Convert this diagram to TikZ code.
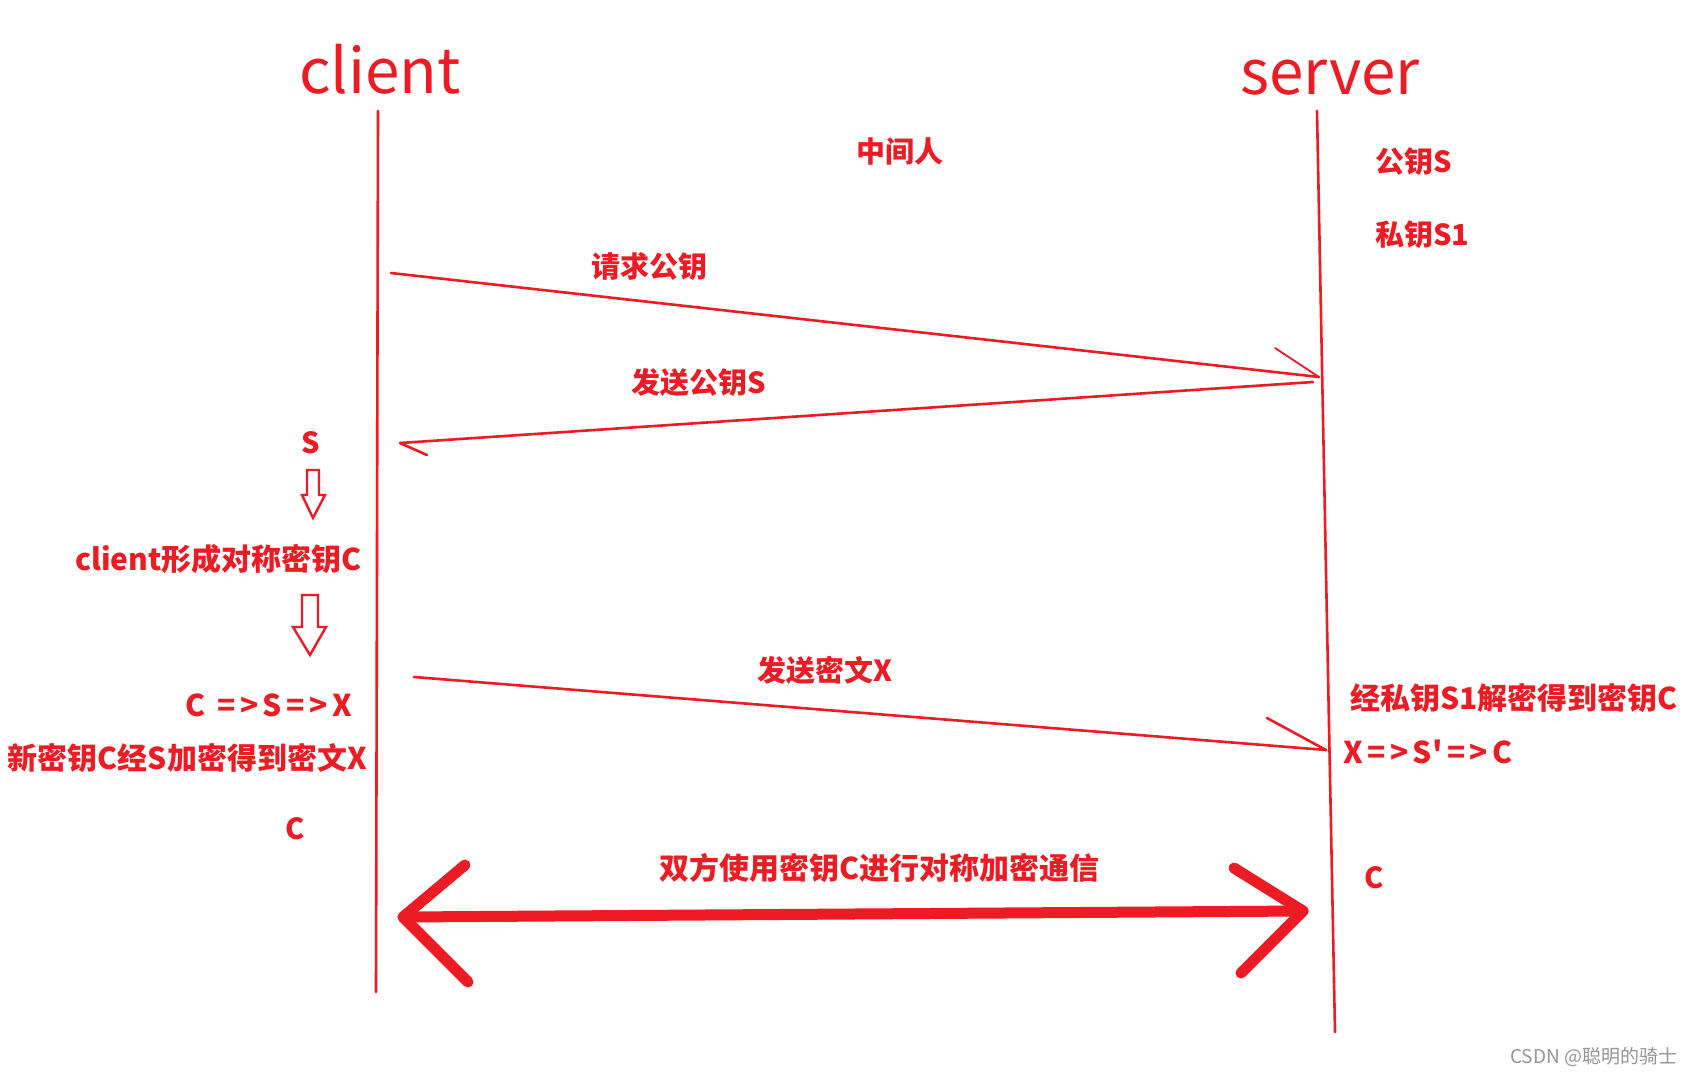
\documentclass[tikz,border=0pt]{standalone}
\usepackage{fontspec}
\setmainfont{Noto Sans CJK SC}
\newfontfamily\cjk{Noto Sans CJK SC}
\definecolor{pred}{RGB}{237,28,36}
\definecolor{wm}{RGB}{150,150,150}
\newcommand\gapx{\hspace{4.5pt}}
\begin{document}
\begin{tikzpicture}[x=1pt,y=-1pt,
  thin line/.style={draw=pred,line width=2.6pt,line cap=round,line join=round},
  big line/.style={draw=pred,line width=11pt,line cap=round,line join=round},
  title/.style={text=pred,inner sep=0pt,font=\cjk\fontsize{62}{70}\selectfont},
  lbl/.style={text=pred,inner sep=0pt,font=\cjk\bfseries\fontsize{29}{34}\selectfont},
  lblb/.style={text=pred,inner sep=0pt,font=\cjk\bfseries\fontsize{30}{34}\selectfont},
  wmark/.style={text=wm,inner sep=0pt,font=\cjk\fontsize{19}{22}\selectfont}]
\useasboundingbox[fill=white] (0,0) rectangle (1695,1077);

% titles
\node[title,anchor=base] (client) at (380,93) {client};
\node[title,anchor=base] (server) at (1330,94) {server};

% lifelines
\coordinate (ct) at (378,111);
\coordinate (cb) at (376,992);
\coordinate (st) at (1317,111);
\coordinate (sb) at (1335,1032);
\draw[thin line] (ct) -- (cb);
\draw[thin line] (st) -- (sb);

% labels
\node[lbl] (mid) at (900,151) {中间人};
\node[lbl,anchor=west] (pub) at (1375,162) {公钥S};
\node[lbl,anchor=west] (priv) at (1375,235) {私钥S1};
\node[lbl] (req) at (649,267) {请求公钥};
\node[lbl] (send) at (699,383) {发送公钥S};
\node[lbl] (s) at (311,443) {S};
\node[lblb,anchor=east] (form) at (362,559) {client形成对称密钥C};
\node[lblb,anchor=east] (csx) at (352,705) {C\gapx\ =\gapx>\gapx S\gapx=\gapx>\gapx X};
\node[lblb,anchor=east] (newkey) at (367,758) {新密钥C经S加密得到密文X};
\node[lbl] (cl) at (295,829) {C};
\node[lbl] (sendx) at (825,670) {发送密文X};
\node[lblb,anchor=west] (dec) at (1350,698) {经私钥S1解密得到密钥C};
\node[lblb,anchor=west] (xsc) at (1343,752) {X\gapx=\gapx>\gapx S'\gapx=\gapx>\gapx C};
\node[lbl] (cr) at (1374,878) {C};
\node[lblb] (both) at (879,868) {双方使用密钥C进行对称加密通信};
\node[wmark,anchor=west] (wmk) at (1510,1057) {CSDN @聪明的骑士};

% arrow 1: request public key
\coordinate (a1s) at (391,273);
\coordinate (a1e) at (1319,377);
\coordinate (a1b) at (1275,348);
\draw[thin line] (a1s) -- (a1e);
\draw[thin line,line width=1.8pt] (a1b) -- (a1e);

% arrow 2: send public key
\coordinate (a2s) at (1313,382);
\coordinate (a2e) at (400,443);
\coordinate (a2b) at (427,455);
\draw[thin line] (a2s) -- (a2e) -- (a2b);

% arrow 3: send ciphertext
\coordinate (a3s) at (414,677);
\coordinate (a3e) at (1326,750);
\coordinate (a3b) at (1267,718);
\draw[thin line] (a3s) -- (a3e);
\draw[thin line] (a3b) -- (a3e);

% big double arrow
\coordinate (bl) at (403,917);
\coordinate (br) at (1303,911);
\coordinate (blu) at (465,865);
\coordinate (bld) at (468,982);
\coordinate (bru) at (1234,868);
\coordinate (brd) at (1241,973);
\draw[big line] (bl) -- (br);
\draw[big line] (blu) -- (bl) -- (bld);
\draw[big line] (bru) -- (br) -- (brd);

% hollow down arrows
\draw[draw=pred,line width=2.4pt,line join=miter]
  (307,470) -- (319,470) -- (319,495) -- (325,495) -- (313,518) -- (302,495) -- (307,495) -- cycle;
\draw[draw=pred,line width=2.4pt,line join=miter]
  (302,595) -- (318,595) -- (318,627) -- (326,627) -- (310,655) -- (293,627) -- (302,627) -- cycle;
\end{tikzpicture}
\end{document}
